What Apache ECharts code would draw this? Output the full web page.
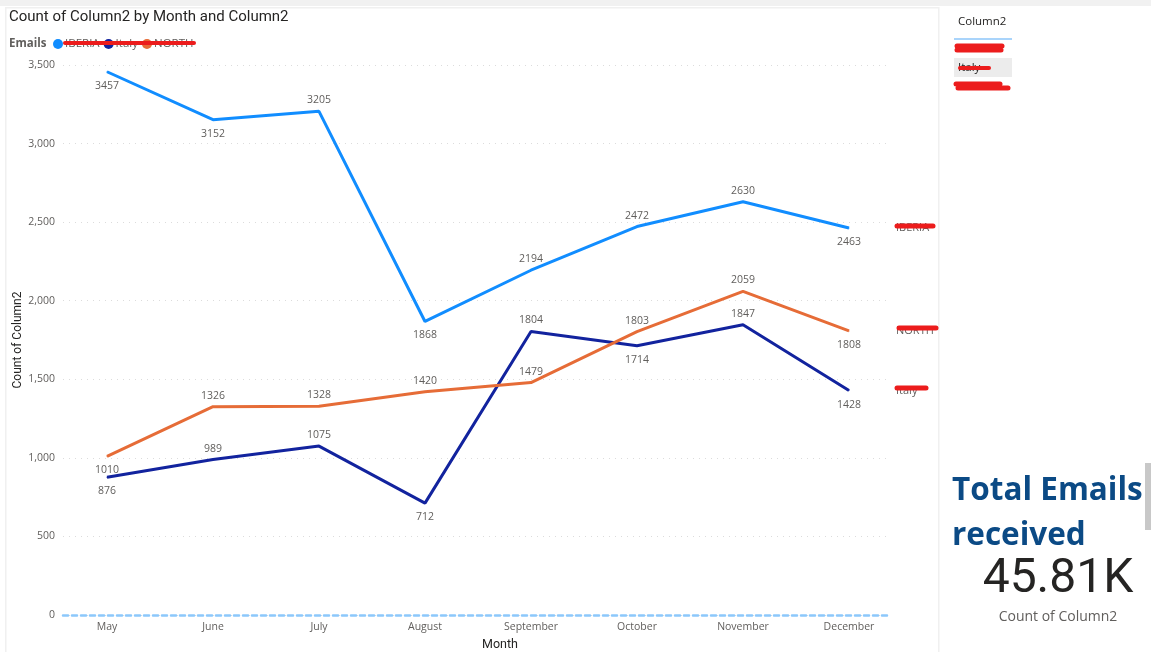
<!DOCTYPE html>
<html lang="en">
<head>
    <meta charset="UTF-8">
    <title>Count of Column2</title>
    <script src="https://cdn.jsdelivr.net/npm/echarts@6/dist/echarts.min.js"></script>
    <style>
        html, body { margin: 0; padding: 0; background: #fff; }
    </style>
</head>
<body>

<div id="wrap" style="width: 1151px; height: 652px;"></div>

<script>
    var months = ["May", "June", "July", "August", "September", "October", "November", "December"];
    var iberia = [3457, 3152, 3205, 1868, 2194, 2472, 2630, 2463];
    var italy = [876, 989, 1075, 712, 1804, 1714, 1847, 1428];
    var north = [1010, 1326, 1328, 1420, 1479, 1803, 2059, 1808];
    var slicerItems = ["IBERIA", "Italy", "NORTH"];

    // which side of the line each value label sits on
    var iberiaSide = ["bottom", "bottom", "top", "bottom", "top", "top", "top", "bottom"];
    var italySide = ["bottom", "top", "top", "bottom", "top", "bottom", "top", "bottom"];
    var northSide = ["bottom", "top", "top", "top", "top", "top", "top", "bottom"];

    var TEXT = '"Open Sans", sans-serif';
    var HEAD = 'Roboto, sans-serif';
    var RED = '#ec1c1c';

    function makeSeries(name, values, sides, color) {
        return {
            name: name,
            type: 'line',
            xAxisIndex: 1,
            yAxisIndex: 1,
            symbol: 'circle',
            symbolSize: 1,
            showSymbol: true,
            showAllSymbol: true,
            lineStyle: { color: color, width: 3 },
            itemStyle: { color: color },
            endLabel: {
                show: true,
                formatter: '{a}',
                distance: 47,
                fontFamily: TEXT,
                fontSize: 11,
                color: '#605e5c'
            },
            data: values.map(function (v, i) {
                return {
                    value: v,
                    label: {
                        show: true,
                        position: sides[i],
                        distance: sides[i] == 'top' ? 5 : 8,
                        formatter: '{c}',
                        fontFamily: TEXT,
                        fontSize: 10.5,
                        color: '#605e5c'
                    }
                };
            })
        };
    }

    function scribble(x1, y1, x2, y2, w) {
        return {
            type: 'line',
            z: 100,
            shape: { x1: x1, y1: y1, x2: x2, y2: y2 },
            style: { stroke: RED, lineWidth: w || 5, lineCap: 'round' }
        };
    }

    function boxText(x, y, text, font, color, align) {
        return {
            type: 'text',
            z: 50,
            x: x,
            y: y,
            style: { text: text, font: font, fill: color, align: align || 'left', verticalAlign: 'middle' }
        };
    }

    function rect(x, y, w, h, fill, z) {
        return { type: 'rect', z: z || 1, shape: { x: x, y: y, width: w, height: h }, style: { fill: fill } };
    }

    var wrap_obj = document.getElementById("wrap");
    var myChart = echarts.init(wrap_obj);

    var option = {
        animation: false,
        backgroundColor: '#fff',
        title: {
            text: 'Count of Column2 by Month and Column2',
            left: 9,
            top: 10,
            padding: 0,
            textStyle: { fontFamily: HEAD, fontSize: 15, fontWeight: 'normal', color: '#252423' }
        },
        legend: {
            left: 53,
            top: 38,
            padding: 0,
            icon: 'circle',
            itemWidth: 10,
            itemHeight: 10,
            itemGap: 4,
            textStyle: { fontFamily: TEXT, fontSize: 11.5, color: '#605e5c', padding: [0, 0, 0, -3] },
            data: ['IBERIA', 'Italy', 'NORTH']
        },
        grid: [
            // reference lines stop short of the category bands, so they get their own grid
            { left: 63, top: 65, width: 827, height: 550, outerBoundsMode: 'none' },
            { left: 54, top: 65, width: 848, height: 550, outerBoundsMode: 'none' }
        ],
        xAxis: [
            {
                gridIndex: 0,
                type: 'value',
                min: 0,
                max: 1,
                axisLabel: { show: false },
                axisTick: { show: false },
                splitLine: { show: false },
                axisLine: { show: true, lineStyle: { color: '#8cc8fb', width: 2.5, type: [5, 4] } }
            },
            {
                gridIndex: 1,
                type: 'category',
                boundaryGap: true,
                data: months,
                name: 'Month',
                nameLocation: 'middle',
                nameGap: 23,
                nameMoveOverlap: false,
                nameTextStyle: { fontFamily: HEAD, fontSize: 12.5, color: '#252423', padding: [0, 0, 0, 44] },
                axisLine: { show: false },
                axisTick: { show: false },
                axisLabel: { fontFamily: TEXT, fontSize: 10.5, color: '#605e5c', margin: 7 }
            }
        ],
        yAxis: [
            {
                gridIndex: 0,
                type: 'value',
                min: 0,
                max: 3500,
                interval: 500,
                axisLine: { show: false },
                axisTick: { show: false },
                axisLabel: {
                    fontFamily: TEXT,
                    fontSize: 10.5,
                    color: '#605e5c',
                    margin: 8,
                    formatter: function (v) { return v.toLocaleString('en-US'); }
                },
                splitLine: { lineStyle: { color: '#dcdcdc', width: 1, type: [1, 5] } },
                name: 'Count of Column2',
                nameLocation: 'middle',
                nameGap: 39,
                nameMoveOverlap: false,
                nameTextStyle: { fontFamily: HEAD, fontSize: 12, color: '#252423' }
            },
            {
                gridIndex: 1,
                type: 'value',
                min: 0,
                max: 3500,
                show: false
            }
        ],
        series: [
            makeSeries('IBERIA', iberia, iberiaSide, '#118DFF'),
            makeSeries('Italy', italy, italySide, '#12239E'),
            makeSeries('NORTH', north, northSide, '#E66C37')
        ],
        graphic: [
            // window chrome and visual border
            rect(0, 0, 1151, 6, '#f1f1f1'),
            rect(5, 7, 934, 1.5, '#f0f0f0'),
            rect(5, 7, 1.5, 645, '#f0f0f0'),
            rect(938, 7, 1.5, 645, '#f0f0f0'),
            rect(1145, 463, 6, 67, '#c8c8c8'),

            boxText(9, 44, 'Emails', 'bold 11.5px ' + TEXT, '#605e5c'),

            // slicer
            boxText(958, 22, 'Column2', '11.5px ' + TEXT, '#252423'),
            rect(954, 38, 58, 2, '#a9d4fb'),
            rect(954, 58, 58, 19, '#ececec'),
            boxText(958, 49, slicerItems[0], '11.5px ' + TEXT, '#252423'),
            boxText(958, 68, slicerItems[1], '11.5px ' + TEXT, '#252423'),
            boxText(958, 87, slicerItems[2], '11.5px ' + TEXT, '#252423'),

            // KPI card
            boxText(952, 491, 'Total Emails', 'bold 31.5px ' + TEXT, '#0b4a85'),
            boxText(952, 536, 'received', 'bold 31.5px ' + TEXT, '#0b4a85'),
            boxText(1058, 580, '45.81K', '400 48px ' + HEAD, '#252423', 'center'),
            boxText(1058, 617, 'Count of Column2', '14px ' + TEXT, '#605e5c', 'center'),

            // red redaction strokes
            scribble(65, 43, 194, 43, 4),
            scribble(957, 46, 1002, 46),
            scribble(957, 50, 1001, 50),
            scribble(960, 68, 989, 68, 4),
            scribble(956, 84, 1000, 84),
            scribble(958, 88, 1008, 88),
            scribble(897, 226, 933, 226),
            scribble(899, 328, 936, 328),
            scribble(897, 388, 926, 388)
        ]
    };

    myChart.setOption(option);
</script>
</body>
</html>
